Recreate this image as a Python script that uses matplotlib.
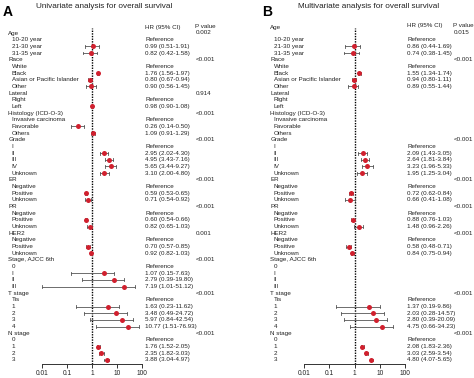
import numpy as np
import matplotlib
matplotlib.use("Agg")
import matplotlib.pyplot as plt

plt.rcParams['font.family'] = ['Liberation Sans', 'DejaVu Sans']

# ---------------- data ----------------
groups = ["Age", "Race", "Lateral", "Histology (ICD-O-3)", "Grade", "ER", "PR", "HER2",
          "Stage, AJCC 6th", "T stage", "N stage"]
levels = [
    ["10-20 year", "21-30 year", "31-35 year"],
    ["White", "Black", "Asian or Pacific Islander", "Other"],
    ["Right", "Left"],
    ["Invasive carcinoma", "Favorable", "Others"],
    ["I", "II", "III", "IV", "Unknown"],
    ["Negative", "Positive", "Unknown"],
    ["Negative", "Positive", "Unknown"],
    ["Negative", "Positive", "Unknown"],
    ["0", "I", "II", "III"],
    ["Tis", "1", "2", "3", "4"],
    ["0", "1", "2", "3"],
]

# Univariate (panel A)
p_a = ["0.002", "<0.001", "0.914", "<0.001", "<0.001", "<0.001", "<0.001", "0.001",
       "<0.001", "<0.001", "<0.001"]
text_a = [
    ["Reference", "0.99 (0.51-1.91)", "0.82 (0.42-1.58)"],
    ["Reference", "1.76 (1.56-1.97)", "0.80 (0.67-0.94)", "0.90 (0.56-1.45)"],
    ["Reference", "0.98 (0.90-1.08)"],
    ["Reference", "0.26 (0.14-0.50)", "1.09 (0.91-1.29)"],
    ["Reference", "2.95 (2.02-4.30)", "4.95 (3.43-7.16)", "5.65 (3.44-9.27)", "3.10 (2.00-4.80)"],
    ["Reference", "0.59 (0.53-0.65)", "0.71 (0.54-0.92)"],
    ["Reference", "0.60 (0.54-0.66)", "0.82 (0.65-1.03)"],
    ["Reference", "0.70 (0.57-0.85)", "0.92 (0.82-1.03)"],
    ["Reference", "1.07 (0.15-7.63)", "2.79 (0.39-19.80)", "7.19 (1.01-51.12)"],
    ["Reference", "1.63 (0.23-11.62)", "3.48 (0.49-24.72)", "5.97 (0.84-42.54)", "10.77 (1.51-76.93)"],
    ["Reference", "1.76 (1.52-2.05)", "2.35 (1.82-3.03)", "3.88 (3.04-4.97)"],
]
# plotted marker positions and whisker ends as drawn (None = no mark)
pt_a = [[None, 1.10, 0.90], [None, 1.76, 0.80, 0.95], [None, 0.98], [None, 0.28, 1.09],
        [None, 2.95, 4.95, 5.65, 3.10], [None, 0.59, 0.71], [None, 0.60, 0.82],
        [None, 0.70, 0.92], [None, 2.9, 7.4, 19.5], [None, 4.4, 9.4, 15.8, 28.0],
        [None, 1.76, 2.35, 3.88]]
lo_a = [[None, 0.51, 0.42], [None, 1.56, 0.67, 0.56], [None, 0.90], [None, 0.14, 0.91],
        [None, 2.02, 3.43, 3.44, 2.00], [None, 0.53, 0.54], [None, 0.54, 0.65],
        [None, 0.57, 0.82], [None, 0.15, 0.39, 0.01], [None, 0.23, 0.49, 0.84, 1.51],
        [None, 1.52, 1.82, 3.04]]
hi_a = [[None, 1.91, 1.58], [None, 1.97, 0.94, 1.45], [None, 1.08], [None, 0.50, 1.29],
        [None, 4.30, 7.16, 9.27, 4.80], [None, 0.65, 0.92], [None, 0.66, 1.03],
        [None, 0.85, 1.03], [None, 7.63, 19.80, 51.12], [None, 11.62, 24.72, 42.54, 76.93],
        [None, 2.05, 3.03, 4.97]]

# Multivariate (panel B)
p_b = ["0.015", "<0.001", "", "", "<0.001", "<0.001", "<0.001", "<0.001", "",
       "<0.001", "<0.001"]
text_b = [
    ["Reference", "0.86 (0.44-1.69)", "0.74 (0.38-1.45)"],
    ["Reference", "1.55 (1.34-1.74)", "0.94 (0.80-1.11)", "0.89 (0.55-1.44)"],
    ["", ""],
    ["", "", ""],
    ["Reference", "2.09 (1.43-3.05)", "2.64 (1.81-3.84)", "3.23 (1.96-5.33)", "1.95 (1.25-3.04)"],
    ["Reference", "0.72 (0.62-0.84)", "0.66 (0.41-1.08)"],
    ["Reference", "0.88 (0.76-1.03)", "1.48 (0.96-2.26)"],
    ["Reference", "0.58 (0.48-0.71)", "0.84 (0.75-0.94)"],
    ["", "", "", ""],
    ["Reference", "1.37 (0.19-9.86)", "2.03 (0.28-14.57)", "2.80 (0.39-20.09)", "4.75 (0.66-34.23)"],
    ["Reference", "2.08 (1.83-2.36)", "3.03 (2.59-3.54)", "4.80 (4.07-5.65)"],
]
pt_b = [[None, 0.98, 0.86], [None, 1.55, 0.94, 0.93], [None, None], [None, None, None],
        [None, 2.09, 2.64, 3.23, 1.95], [None, 0.72, 0.68], [None, 0.88, 1.48],
        [None, 0.58, 0.82], [None, None, None, None], [None, 3.6, 5.3, 7.2, 12.3],
        [None, 2.0, 2.9, 4.6]]
lo_b = [[None, 0.44, 0.38], [None, 1.34, 0.80, 0.55], [None, None], [None, None, None],
        [None, 1.43, 1.81, 1.96, 1.25], [None, 0.62, 0.41], [None, 0.76, 0.96],
        [None, 0.48, 0.75], [None, None, None, None], [None, 0.19, 0.28, 0.39, 0.66],
        [None, 1.83, 2.59, 4.07]]
hi_b = [[None, 1.69, 1.45], [None, 1.74, 1.11, 1.44], [None, None], [None, None, None],
        [None, 3.05, 3.84, 5.33, 3.04], [None, 0.84, 1.08], [None, 1.03, 2.26],
        [None, 0.71, 0.94], [None, None, None, None], [None, 9.86, 14.57, 20.09, 34.23],
        [None, 2.36, 3.54, 5.65]]

tick_vals = [0.01, 0.1, 1, 10, 100]
tick_labels = ["0.01", "0.1", "1", "10", "100"]

# ---------------- layout ----------------
W, H = 474, 378
fig = plt.figure(figsize=(W / 100, H / 100), dpi=100)

ROW0 = 33.0
DY = 6.673
FS = 4.5
RED = "#d0202e"
TXT = "#222222"


def fx(x):
    return x / W


def fy(y):
    return 1 - y / H


def panel(x0, letter, title, title_cx, lab_x, sub_x, ax_l, ax_r, hr_x, p_x, head_y, first_y,
          ptext, htext, pt, lo, hi):
    fig.text(fx(x0), fy(12.5), letter, fontsize=10, fontweight="bold", va="center", ha="left")
    fig.text(fx(title_cx), fy(6), title, fontsize=5.9, va="center", ha="center", color=TXT)
    fig.text(fx(hr_x), fy(head_y), "HR (95% CI)", fontsize=FS, va="center", color=TXT)
    fig.text(fx(p_x - 1), fy(head_y), "P value", fontsize=FS, va="center", color=TXT)

    ax_bot, ax_top = 364.0, 28.0
    ax = fig.add_axes([fx(ax_l), fy(ax_bot), (ax_r - ax_l) / W, (ax_bot - ax_top) / H])
    ax.set_xscale("log")
    ax.set_xlim(0.01, 100)
    ax.set_ylim((ax_bot - ROW0) / DY, (ax_top - ROW0) / DY)
    for s in ["top", "right", "left"]:
        ax.spines[s].set_visible(False)
    ax.spines["bottom"].set_linewidth(0.7)
    ax.spines["bottom"].set_color("#333333")
    ax.set_yticks([])
    ax.set_xticks(tick_vals)
    ax.set_xticklabels(tick_labels, fontsize=4.8, color=TXT)
    ax.minorticks_off()
    ax.tick_params(axis="x", length=3, width=0.7, pad=1.5, color="#333333")
    ax.axvline(1, color="black", linestyle=(0, (1.0, 0.9)), linewidth=1.0, zorder=1)
    ax.patch.set_alpha(0)

    row = 0
    for g, gname in enumerate(groups):
        y = ROW0 + row * DY
        fig.text(fx(lab_x), fy(first_y if row == 0 else y), gname, fontsize=FS, va="center",
                 color=TXT)
        if ptext[g]:
            fig.text(fx(p_x), fy(y), ptext[g], fontsize=FS, va="center", color=TXT)
        row += 1
        for k, lname in enumerate(levels[g]):
            y = ROW0 + row * DY
            fig.text(fx(sub_x), fy(y), lname, fontsize=FS, va="center", color=TXT)
            if htext[g][k]:
                fig.text(fx(hr_x), fy(y), htext[g][k], fontsize=FS, va="center", color=TXT)
            if pt[g][k] is not None:
                ax.plot([lo[g][k], hi[g][k]], [row, row], color="#555555", lw=0.6, zorder=2)
                for e in (lo[g][k], hi[g][k]):
                    ax.plot([e, e], [row - 0.22, row + 0.22], color="#555555", lw=0.6, zorder=2)
                ax.plot([pt[g][k]], [row], marker="o", markersize=3.6, color=RED,
                        markeredgewidth=0, zorder=3)
            row += 1
    return ax


panel(3, "A", "Univariate analysis for overall survival", 104, 8.3, 11.7, 42, 142, 145, 196,
      27, 33, p_a, text_a, pt_a, lo_a, hi_a)
panel(262, "B", "Multivariate analysis for overall survival", 369, 270.3, 273.7, 304, 405, 407, 454,
      25.5, 28, p_b, text_b, pt_b, lo_b, hi_b)

fig.savefig("out.png", dpi=100)
